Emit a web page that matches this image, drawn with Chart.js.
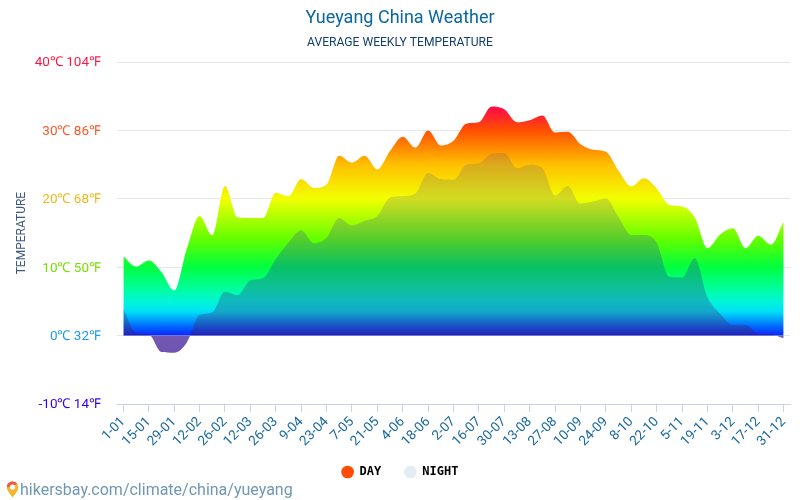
<!DOCTYPE html>
<html><head><meta charset="utf-8">
<style>
html,body{margin:0;padding:0;background:#fff;overflow:hidden}
#wrap{position:relative;width:800px;height:500px}
canvas{position:absolute;left:0;top:0}
#foot{position:absolute;left:20px;top:480px;font:16px Roboto,sans-serif;color:#6f97b5;line-height:19px;white-space:nowrap}
#pin{position:absolute;left:6px;top:481px}
</style>
<script src="https://cdn.jsdelivr.net/npm/chart.js@4/dist/chart.umd.min.js"></script>
</head><body>
<div id="wrap">
<canvas id="c" width="800" height="500"></canvas>
<svg id="pin" width="13" height="17" viewBox="0 0 13 17"><path d="M6.5 .5C3.2 .5 .8 3 .8 6c0 3.5 3.5 7.5 5.7 10.3C8.7 13.500 12.200 9.500 12.200 6 12.200 3 9.800 .5 6.500 .5Z" fill="#f2b632"/><path d="M.8 6C.8 3 3.200 .5 6.500 .5c2 0 3.600 .9 4.600 2.300L6.500 6Z" fill="#ee5a4a"/><path d="M6.500 16.300C8.700 13.500 12.200 9.500 12.200 6c0-1.200-.4-2.300-1.100-3.200L6.500 6Z" fill="#f2b632"/><circle cx="6.500" cy="6" r="2.600" fill="#fff"/></svg>
<div id="foot">hikersbay.com/climate/china/yueyang</div>
</div>
<script>
const weekLabels = ["1-01","8-01","15-01","22-01","29-01","5-02","12-02","19-02","26-02","5-03","12-03","19-03","26-03","2-04","9-04","16-04","23-04","30-04","7-05","14-05","21-05","28-05","4-06","11-06","18-06","25-06","2-07","9-07","16-07","23-07","30-07","6-08","13-08","20-08","27-08","3-09","10-09","17-09","24-09","1-10","8-10","15-10","22-10","29-10","5-11","12-11","19-11","26-11","3-12","10-12","17-12","24-12","31-12"];
const dayTemps = [11.6,10.1,11.0,9.3,6.6,12.7,17.5,14.7,21.9,17.3,17.2,17.2,20.9,20.4,22.9,21.6,22.1,26.3,25.3,26.3,24.3,27.0,29.1,27.5,30.0,27.8,28.5,31.0,31.2,33.5,33.1,31.2,31.5,32.2,29.7,29.8,28.0,27.2,26.9,24.1,21.8,23.0,21.5,19.1,18.9,17.3,12.8,14.8,15.7,12.8,14.6,13.3,16.7];
const nightTemps = [3.9,0.4,0.2,-2.4,-2.5,-1.0,3.0,3.4,6.4,5.9,8.1,8.4,11.2,13.6,15.4,13.5,14.3,17.2,16.1,16.8,17.5,20.2,20.4,20.8,23.8,22.9,22.8,25.0,25.2,26.6,26.7,24.5,25.0,24.5,20.5,21.9,19.3,19.6,20.1,17.3,14.7,14.7,13.6,8.6,8.5,11.3,5.6,3.2,1.6,1.6,0.3,0.2,-0.4];
const yTickValues = [-10,0,10,20,30,40];
const yTickLabels = ["-10℃ 14℉","0℃ 32℉","10℃ 50℉","20℃ 68℉","30℃ 86℉","40℃ 104℉"];
const yTickColors = ["#3300ee","#1e9be8","#76e000","#f0b81c","#ff5722","#ff1744"];
const seriesNames = ["DAY","NIGHT"];
const legendColors = ["#ff4a0a","#e6ecf4"];
const dayStops = [[-10,"#3300ff"],[0,"#0a24ff"],[1.5,"#0070ff"],[3.5,"#00e0f5"],[5,"#00f5d8"],[7,"#00ff98"],[10,"#00ff40"],[14,"#60ff00"],[20,"#f2ff00"],[25,"#ffc000"],[30,"#ff5000"],[33,"#ff1040"],[40,"#ff0050"]];
const nightStops = [[-10,"rgba(60,20,150,0.8)"],[-0.02,"rgba(60,25,150,0.72)"],[0,"rgba(90,20,30,0.30)"],[5,"rgba(60,20,120,0.27)"],[10,"rgba(30,10,200,0.25)"],[20,"rgba(40,40,200,0.16)"],[30,"rgba(20,60,160,0.15)"],[40,"rgba(20,60,160,0.15)"]];

function grad(ctx, stops){
  const c = ctx.chart, a = c.chartArea;
  if(!a) return "transparent";
  const y = c.scales.y;
  const g = c.ctx.createLinearGradient(0, y.getPixelForValue(-10), 0, y.getPixelForValue(40));
  stops.forEach(s => g.addColorStop((s[0]+10)/50, s[1]));
  return g;
}
new Chart(document.getElementById("c"), {
  type:"line",
  data:{labels:weekLabels, datasets:[
    {label:seriesNames[0], data:dayTemps, order:2, fill:{value:0}, borderWidth:0, pointRadius:0, cubicInterpolationMode:"monotone", backgroundColor:ctx=>grad(ctx,dayStops)},
    {label:seriesNames[1], data:nightTemps, order:1, fill:{value:0}, borderWidth:0, pointRadius:0, cubicInterpolationMode:"monotone", backgroundColor:ctx=>grad(ctx,nightStops)}
  ]},
  options:{
    responsive:false, animation:false, devicePixelRatio:1,
    layout:{padding:{left:10,right:10,top:8,bottom:12}},
    plugins:{
      title:{display:true,text:"Yueyang China Weather",color:"#0a679f",font:{family:"Roboto",size:18,weight:"normal"},padding:{top:0,bottom:6}},
      subtitle:{display:true,text:"AVERAGE WEEKLY TEMPERATURE",color:"#123f6e",font:{family:"Roboto",size:12.1,weight:"normal"},padding:{top:0,bottom:12}},
      legend:{display:true,position:"bottom",labels:{usePointStyle:true,pointStyle:"circle",boxWidth:12,boxHeight:9,padding:23,color:"#4a4a55",font:{family:"'DejaVu Sans Mono'",size:12,weight:"bold"},
        generateLabels:()=>seriesNames.map((n,i)=>({text:n,fillStyle:legendColors[i],strokeStyle:legendColors[i],lineWidth:0,pointStyle:"circle",datasetIndex:i,hidden:false}))}},
      tooltip:{enabled:false}
    },
    scales:{
      x:{offset:true,
        afterBuildTicks:s=>{s.ticks=s.ticks.filter((t,i)=>i%2===0)},
        afterFit:s=>{s.height=39; s._computeLabelArea=()=>undefined},
        border:{display:true,color:"#c9d2e6"},
        grid:{display:true,drawOnChartArea:false,drawTicks:true,tickLength:8,tickColor:"#c9d2e6",color:"#c9d2e6",offset:false},
        ticks:{autoSkip:false,maxRotation:45,minRotation:45,padding:2,color:"#1a6a9e",font:{family:"Roboto",size:13.5}}
      },
      y:{min:-10,max:40,
        afterFit:s=>{s.width=107},
        afterBuildTicks:s=>{s.ticks=yTickValues.map(v=>({value:v}))},
        border:{display:false},
        grid:{color:"#e6e6e6",drawTicks:false},
        title:{display:true,text:"TEMPERATURE",color:"#3d5a80",font:{family:"Roboto",size:12,weight:"normal"},padding:{top:5,bottom:0}},
        ticks:{padding:16,autoSkip:false,labelOffset:1,font:{family:"Roboto",size:13.5},
          color:c=>yTickColors[yTickValues.indexOf(c.tick.value)],
          callback:v=>yTickLabels[yTickValues.indexOf(v)]}
      }
    }
  }
});
</script>
</body></html>
